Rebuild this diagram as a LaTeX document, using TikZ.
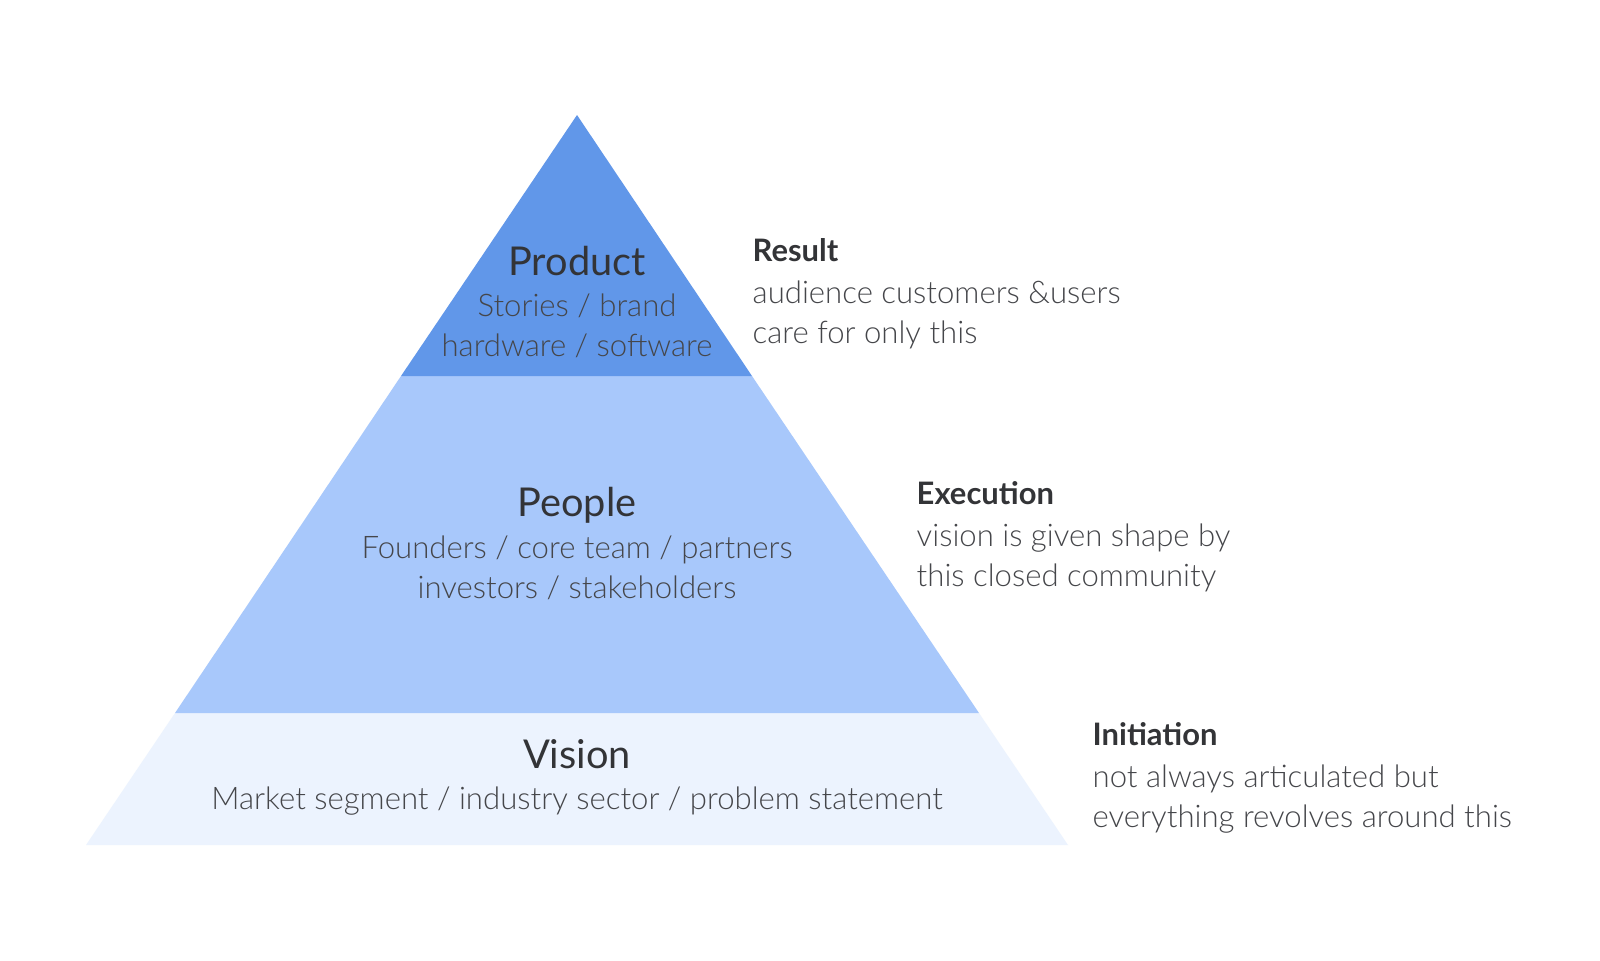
\documentclass[tikz,border=0pt]{standalone}
\usepackage{fontspec}
\setmainfont{Lato}
\newfontfamily\latolight{Lato Light}
\definecolor{prodblue}{HTML}{6197E9}
\definecolor{peopleblue}{HTML}{A8C8FB}
\definecolor{visionblue}{HTML}{ECF3FE}
\definecolor{darktext}{HTML}{333437}
\definecolor{greytext}{HTML}{45464A}
\tikzset{
  layertitle/.style={anchor=base, inner sep=0pt, text=darktext, font=\fontsize{11.3}{13}\selectfont},
  layerline/.style={anchor=base, inner sep=0pt, text=greytext, font=\latolight\fontsize{8.85}{11}\selectfont},
  sidehead/.style={anchor=base west, inner sep=0pt, text=darktext, font=\bfseries\fontsize{8.8}{11}\selectfont},
  sideline/.style={anchor=base west, inner sep=0pt, text=greytext, font=\latolight\fontsize{8.85}{11}\selectfont}
}
\begin{document}
\begin{tikzpicture}[x=0.01cm,y=-0.01cm]
\useasboundingbox [fill=white] (0,0) rectangle (1600,960);
\coordinate (apex) at (577,115);
\coordinate (pl) at (401,376);
\coordinate (pr) at (752,376);
\coordinate (ml) at (175,713);
\coordinate (mr) at (979,713);
\coordinate (bl) at (86,845);
\coordinate (br) at (1068,845);
\fill [visionblue] (ml) -- (mr) -- (br) -- (bl) -- cycle;
\fill [peopleblue] (pl) -- (pr) -- (mr) -- (ml) -- cycle;
\fill [prodblue] (apex) -- (pr) -- (pl) -- cycle;
\node [layertitle] (product) at (577,275) {Product};
\node [layerline] (product1) at (577,316) {Stories / brand};
\node [layerline] (product2) at (577,356) {hardware / software};
\node [layertitle] (people) at (577,516) {People};
\node [layerline] (people1) at (577,558) {Founders / core team / partners};
\node [layerline] (people2) at (577,598) {investors / stakeholders};
\node [layertitle] (vision) at (577,768) {Vision};
\node [layerline] (vision1) at (577,809) {Market segment / industry sector / problem statement};
\node [sidehead] (result) at (752,261) {Result};
\node [sideline] (result1) at (752,303) {audience customers \&users};
\node [sideline] (result2) at (752,343) {care for only this};
\node [sidehead] (execution) at (916,504) {Execution};
\node [sideline] (execution1) at (916,546) {vision is given shape by};
\node [sideline] (execution2) at (916,586) {this closed community};
\node [sidehead] (initiation) at (1092,745) {Initiation};
\node [sideline] (initiation1) at (1092,787) {not always articulated but};
\node [sideline] (initiation2) at (1092,827) {everything revolves around this};
\end{tikzpicture}
\end{document}
